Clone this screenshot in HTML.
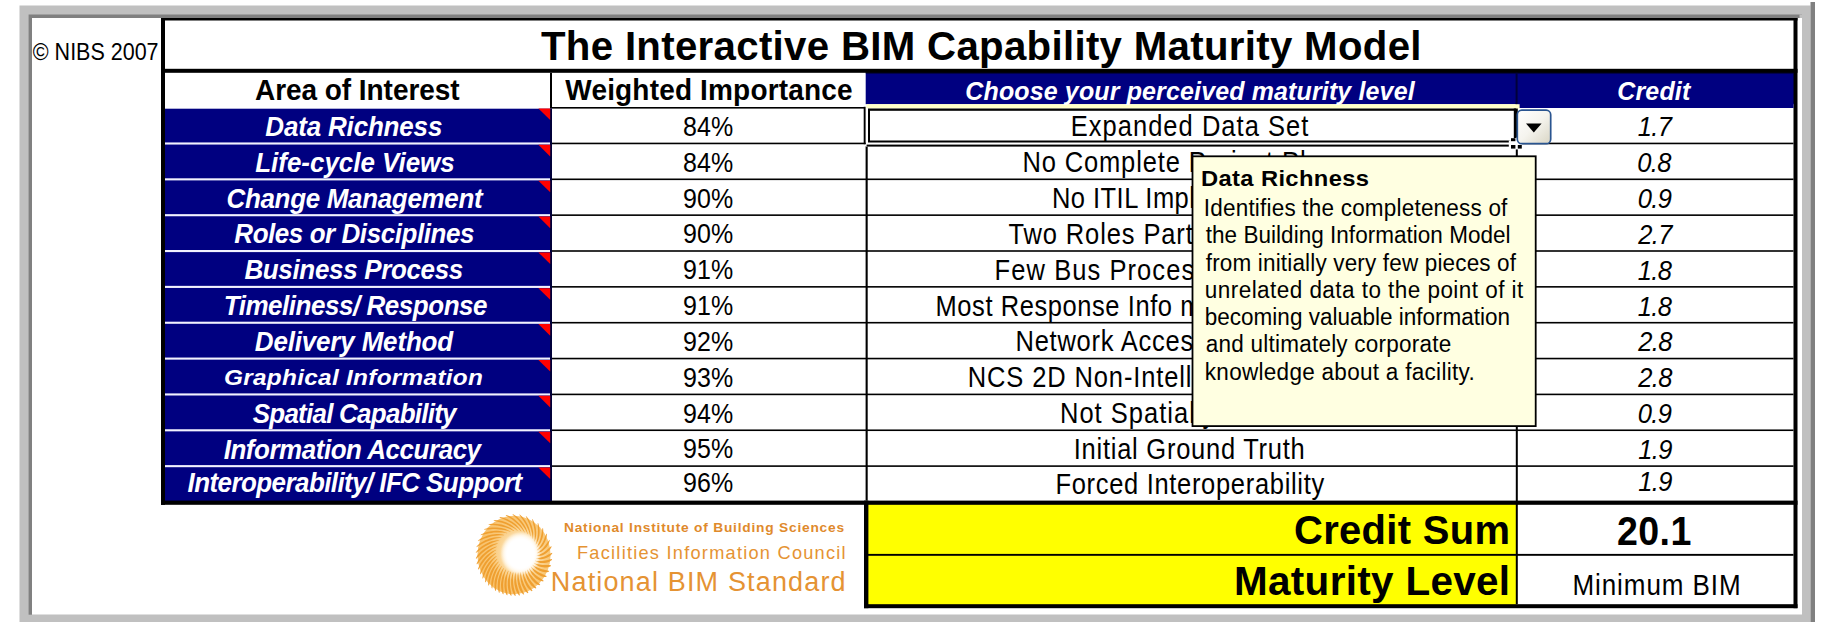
<!DOCTYPE html><html><head><meta charset="utf-8"><title>BIM CMM</title><style>
html,body{margin:0;padding:0;background:#fff;}
body{width:1842px;height:622px;position:relative;overflow:hidden;font-family:"Liberation Sans",sans-serif;}
div,span{position:absolute;}
span{white-space:nowrap;line-height:1;}
</style></head><body>
<svg style="position:absolute;left:0;top:0" width="1842" height="622" viewBox="0 0 1842 622"><rect x="19.50" y="5.50" width="1791.00" height="616.50" fill="#c0c0c0"/><rect x="1810.50" y="2.00" width="4.50" height="620.00" fill="#808080"/><rect x="28.60" y="14.50" width="1773.40" height="600.20" fill="#808080"/><rect x="32.00" y="18.00" width="1770.00" height="596.70" fill="#ffffff"/><rect x="1799.50" y="14.50" width="2.50" height="3.50" fill="#c0c0c0"/><rect x="165.00" y="72.80" width="385.00" height="35.90" fill="#fff"/><rect x="164.00" y="108.70" width="388.00" height="393.40" fill="#000080"/><rect x="865.70" y="71.30" width="928.80" height="32.90" fill="#000080"/><rect x="866.40" y="503.30" width="650.20" height="102.40" fill="#ffff00"/><rect x="161.00" y="18.00" width="1636.50" height="2.50" fill="#000"/><rect x="161.00" y="18.00" width="4.00" height="486.80" fill="#000"/><rect x="1793.50" y="18.00" width="4.00" height="590.20" fill="#000"/><rect x="161.00" y="68.80" width="1636.50" height="4.00" fill="#000"/><rect x="865.70" y="72.60" width="927.80" height="0.80" fill="#000"/><rect x="161.00" y="500.60" width="1636.50" height="4.20" fill="#000"/><rect x="864.00" y="500.60" width="4.40" height="107.60" fill="#000"/><rect x="864.00" y="604.20" width="933.50" height="4.00" fill="#000"/><rect x="550.00" y="72.80" width="2.00" height="35.60" fill="#000"/><rect x="550.00" y="108.40" width="2.00" height="392.20" fill="#00003a"/><rect x="865.60" y="146.20" width="2.10" height="354.40" fill="#000"/><rect x="1515.60" y="72.80" width="2.00" height="31.40" fill="#00003a"/><rect x="1515.80" y="107.20" width="2.00" height="497.00" fill="#000"/><rect x="1515.60" y="103.00" width="2.00" height="5.00" fill="#00003a"/><rect x="552.00" y="107.00" width="312.00" height="1.60" fill="#000"/><rect x="1517.60" y="103.00" width="275.90" height="5.00" fill="#000080"/><rect x="165.00" y="142.45" width="385.00" height="2.10" fill="#f2f2ff"/><rect x="552.00" y="142.65" width="1241.50" height="1.60" fill="#000"/><rect x="165.00" y="178.30" width="385.00" height="2.10" fill="#f2f2ff"/><rect x="552.00" y="178.50" width="1241.50" height="1.60" fill="#000"/><rect x="165.00" y="214.15" width="385.00" height="2.10" fill="#f2f2ff"/><rect x="552.00" y="214.35" width="1241.50" height="1.60" fill="#000"/><rect x="165.00" y="250.00" width="385.00" height="2.10" fill="#f2f2ff"/><rect x="552.00" y="250.20" width="1241.50" height="1.60" fill="#000"/><rect x="165.00" y="285.85" width="385.00" height="2.10" fill="#f2f2ff"/><rect x="552.00" y="286.05" width="1241.50" height="1.60" fill="#000"/><rect x="165.00" y="321.70" width="385.00" height="2.10" fill="#f2f2ff"/><rect x="552.00" y="321.90" width="1241.50" height="1.60" fill="#000"/><rect x="165.00" y="357.55" width="385.00" height="2.10" fill="#f2f2ff"/><rect x="552.00" y="357.75" width="1241.50" height="1.60" fill="#000"/><rect x="165.00" y="393.40" width="385.00" height="2.10" fill="#f2f2ff"/><rect x="552.00" y="393.60" width="1241.50" height="1.60" fill="#000"/><rect x="165.00" y="429.25" width="385.00" height="2.10" fill="#f2f2ff"/><rect x="552.00" y="429.45" width="1241.50" height="1.60" fill="#000"/><rect x="165.00" y="465.10" width="385.00" height="2.10" fill="#f2f2ff"/><rect x="552.00" y="465.30" width="1241.50" height="1.60" fill="#000"/><rect x="867.40" y="553.90" width="926.10" height="1.90" fill="#000"/><polygon points="538.4,108.40 550.2,108.40 550.2,120.00" fill="#ff0000"/><polygon points="538.4,144.85 550.2,144.85 550.2,156.45" fill="#ff0000"/><polygon points="538.4,180.70 550.2,180.70 550.2,192.30" fill="#ff0000"/><polygon points="538.4,216.55 550.2,216.55 550.2,228.15" fill="#ff0000"/><polygon points="538.4,252.40 550.2,252.40 550.2,264.00" fill="#ff0000"/><polygon points="538.4,288.25 550.2,288.25 550.2,299.85" fill="#ff0000"/><polygon points="538.4,324.10 550.2,324.10 550.2,335.70" fill="#ff0000"/><polygon points="538.4,359.95 550.2,359.95 550.2,371.55" fill="#ff0000"/><polygon points="538.4,395.80 550.2,395.80 550.2,407.40" fill="#ff0000"/><polygon points="538.4,431.65 550.2,431.65 550.2,443.25" fill="#ff0000"/><polygon points="538.4,467.50 550.2,467.50 550.2,479.10" fill="#ff0000"/><rect x="866.40" y="104.20" width="653.20" height="4.30" fill="#ffffc8"/><rect x="865.70" y="108.50" width="650.20" height="38.10" fill="#fff"/><rect x="868.00" y="108.50" width="648.00" height="34.00" fill="#000"/><rect x="870.00" y="110.80" width="644.00" height="29.70" fill="#fff"/><rect x="863.70" y="106.80" width="1.90" height="37.40" fill="#000"/><rect x="866.60" y="144.60" width="642.40" height="2.00" fill="#000"/><rect x="1508.80" y="140.40" width="2.00" height="6.40" fill="#fff"/><rect x="1510.20" y="137.60" width="12.00" height="11.80" fill="#fff"/><rect x="1511.00" y="138.20" width="4.40" height="3.00" fill="#000"/><rect x="1511.00" y="145.00" width="4.40" height="3.60" fill="#000"/><rect x="1517.80" y="145.00" width="4.00" height="3.60" fill="#000"/><rect x="1513.80" y="108.50" width="2.20" height="29.50" fill="#000"/></svg>
<svg style="position:absolute;left:1510px;top:104px;z-index:2" width="48" height="46" viewBox="1510 104 48 46"><defs><linearGradient id="bg" x1="0" y1="0" x2="1" y2="1"><stop offset="0" stop-color="#ffffff"/><stop offset="0.5" stop-color="#f5f4ee"/><stop offset="1" stop-color="#d9d5c4"/></linearGradient></defs><rect x="1517.3" y="110.2" width="33.4" height="33.5" rx="4.5" ry="4.5" fill="url(#bg)" stroke="#2a5590" stroke-width="1.7"/><polygon points="1526.0,123.6 1541.6,123.6 1533.8,132.4" fill="#000"/></svg>
<svg style="position:absolute;left:470px;top:508px;" width="90" height="94" viewBox="470 508 90 94"><defs><radialGradient id="hg" gradientUnits="userSpaceOnUse" cx="520.6" cy="553.6" r="40" gradientTransform="translate(520.6 553.6) scale(1 1.08) translate(-520.6 -553.6)"><stop offset="0" stop-color="#fff"/><stop offset="0.33" stop-color="#fff"/><stop offset="0.42" stop-color="#fff0d4"/><stop offset="0.52" stop-color="#fbd79a"/><stop offset="0.68" stop-color="#f9ca7c"/><stop offset="1" stop-color="#f8c26c"/></radialGradient><radialGradient id="hw" gradientUnits="userSpaceOnUse" cx="520.6" cy="553.6" r="20" gradientTransform="translate(520.6 553.6) scale(1 1.08) translate(-520.6 -553.6)"><stop offset="0" stop-color="#fff"/><stop offset="0.62" stop-color="#fff"/><stop offset="0.82" stop-color="#fff" stop-opacity="0.5"/><stop offset="1" stop-color="#fff" stop-opacity="0"/></radialGradient></defs><ellipse cx="514.0" cy="555.0" rx="36.6" ry="39.199999999999996" fill="url(#hg)"/><path d="M537.0 553.0 L538.2 552.3 L539.4 551.4 L540.5 550.5 L541.7 549.4 L542.7 548.4 L543.8 547.3 L544.8 546.1 L545.8 544.8 L546.7 543.5 L547.6 542.2 L548.5 540.9 L549.4 539.7 L549.7 540.6 L549.1 542.6 L548.3 544.3 L547.4 545.9 L546.4 547.2 L545.3 548.5 L544.2 549.6 L543.1 550.5 L541.9 551.4 L540.7 552.0 L539.5 552.5 L538.2 553.0 L537.0 553.3Z" fill="#ee9d2c" fill-opacity="0.95"/><path d="M536.7 555.7 L538.0 555.3 L539.3 554.8 L540.6 554.1 L541.9 553.4 L543.2 552.7 L544.4 551.9 L545.6 551.0 L546.8 550.1 L547.9 549.0 L549.0 548.0 L550.2 547.0 L551.3 546.1 L551.5 547.1 L550.5 548.8 L549.4 550.3 L548.2 551.5 L547.0 552.5 L545.8 553.4 L544.5 554.2 L543.2 554.9 L541.9 555.4 L540.6 555.7 L539.3 555.9 L537.9 556.0 L536.6 556.0Z" fill="#ee9d2c" fill-opacity="0.95"/><path d="M536.0 558.2 L537.4 558.2 L538.8 558.0 L540.2 557.7 L541.6 557.3 L543.0 556.9 L544.3 556.4 L545.7 555.9 L547.0 555.3 L548.3 554.6 L549.6 553.9 L550.9 553.2 L552.1 552.7 L552.2 553.7 L550.9 555.1 L549.6 556.2 L548.2 557.0 L546.8 557.8 L545.5 558.3 L544.1 558.7 L542.7 559.0 L541.3 559.2 L539.9 559.2 L538.6 559.0 L537.3 558.8 L535.9 558.6Z" fill="#ee9d2c" fill-opacity="0.95"/><path d="M535.1 560.6 L536.5 560.9 L537.9 561.0 L539.4 561.1 L540.8 561.0 L542.2 560.9 L543.6 560.8 L545.1 560.6 L546.5 560.3 L547.9 560.0 L549.3 559.6 L550.6 559.3 L552.0 559.1 L551.9 560.1 L550.4 561.1 L548.9 561.9 L547.4 562.4 L546.0 562.8 L544.5 563.0 L543.1 563.0 L541.6 563.0 L540.2 562.9 L538.9 562.5 L537.6 562.0 L536.3 561.5 L535.0 560.9Z" fill="#ee9d2c" fill-opacity="0.95"/><path d="M534.0 562.8 L535.3 563.4 L536.7 563.9 L538.1 564.2 L539.6 564.5 L541.0 564.7 L542.4 564.9 L543.8 565.1 L545.3 565.1 L546.7 565.1 L548.2 565.1 L549.6 565.1 L551.0 565.2 L550.7 566.2 L549.1 566.9 L547.5 567.3 L546.0 567.4 L544.5 567.4 L543.0 567.3 L541.5 567.1 L540.1 566.7 L538.8 566.2 L537.5 565.5 L536.2 564.8 L535.0 564.0 L533.8 563.1Z" fill="#ee9d2c" fill-opacity="0.95"/><path d="M532.6 564.8 L533.9 565.7 L535.2 566.5 L536.5 567.1 L537.9 567.7 L539.3 568.2 L540.7 568.8 L542.1 569.2 L543.5 569.6 L545.0 569.9 L546.4 570.2 L547.8 570.5 L549.2 570.9 L548.8 571.8 L547.1 572.2 L545.5 572.2 L543.9 572.1 L542.4 571.7 L541.0 571.3 L539.6 570.7 L538.2 570.1 L536.9 569.3 L535.7 568.3 L534.6 567.3 L533.5 566.2 L532.4 565.1Z" fill="#ee9d2c" fill-opacity="0.95"/><path d="M531.0 566.6 L532.2 567.7 L533.4 568.8 L534.6 569.7 L535.9 570.6 L537.2 571.4 L538.5 572.2 L539.9 572.9 L541.3 573.6 L542.6 574.2 L544.0 574.8 L545.4 575.4 L546.7 576.1 L546.2 577.0 L544.5 576.9 L542.8 576.7 L541.3 576.2 L539.9 575.6 L538.5 574.8 L537.2 574.0 L535.9 573.0 L534.7 572.0 L533.7 570.8 L532.7 569.5 L531.7 568.2 L530.8 566.8Z" fill="#ee9d2c" fill-opacity="0.95"/><path d="M529.3 568.2 L530.3 569.6 L531.3 570.8 L532.4 572.0 L533.7 573.1 L534.8 574.2 L536.0 575.3 L537.3 576.3 L538.6 577.2 L539.9 578.1 L541.2 578.9 L542.4 579.8 L543.7 580.7 L543.1 581.5 L541.3 581.1 L539.7 580.6 L538.3 579.8 L536.9 578.9 L535.6 577.9 L534.4 576.8 L533.3 575.6 L532.2 574.4 L531.4 572.9 L530.5 571.5 L529.7 570.0 L529.0 568.4Z" fill="#ee9d2c" fill-opacity="0.95"/><path d="M527.4 569.6 L528.2 571.1 L529.1 572.6 L530.0 574.0 L531.1 575.3 L532.2 576.6 L533.2 577.9 L534.4 579.1 L535.5 580.3 L536.7 581.4 L537.9 582.4 L539.1 583.5 L540.2 584.7 L539.5 585.3 L537.8 584.7 L536.3 583.9 L534.9 582.9 L533.7 581.8 L532.5 580.5 L531.4 579.2 L530.5 577.8 L529.5 576.3 L528.8 574.7 L528.2 573.1 L527.6 571.4 L527.1 569.7Z" fill="#ee9d2c" fill-opacity="0.95"/><path d="M525.3 570.7 L525.9 572.4 L526.6 574.1 L527.5 575.6 L528.4 577.1 L529.3 578.7 L530.2 580.1 L531.2 581.5 L532.2 582.8 L533.3 584.1 L534.4 585.4 L535.5 586.7 L536.4 588.0 L535.7 588.6 L534.1 587.7 L532.6 586.6 L531.3 585.4 L530.2 584.1 L529.2 582.6 L528.3 581.1 L527.4 579.6 L526.7 577.9 L526.2 576.2 L525.7 574.4 L525.3 572.6 L525.0 570.8Z" fill="#ee9d2c" fill-opacity="0.95"/><path d="M523.1 571.6 L523.5 573.4 L524.0 575.2 L524.7 576.9 L525.5 578.6 L526.2 580.3 L527.0 581.9 L527.8 583.4 L528.7 584.9 L529.7 586.4 L530.7 587.8 L531.6 589.2 L532.5 590.7 L531.7 591.2 L530.1 590.1 L528.7 588.8 L527.6 587.4 L526.6 585.9 L525.7 584.3 L524.9 582.6 L524.2 580.9 L523.7 579.1 L523.3 577.3 L523.1 575.5 L522.9 573.6 L522.7 571.7Z" fill="#ee9d2c" fill-opacity="0.95"/><path d="M520.7 572.2 L521.0 574.2 L521.3 576.0 L521.8 577.9 L522.4 579.7 L523.0 581.4 L523.6 583.2 L524.3 584.9 L525.1 586.5 L525.9 588.1 L526.8 589.7 L527.6 591.2 L528.4 592.8 L527.5 593.2 L526.0 591.8 L524.8 590.4 L523.7 588.8 L522.9 587.1 L522.1 585.4 L521.5 583.6 L521.0 581.8 L520.6 580.0 L520.4 578.1 L520.3 576.1 L520.3 574.2 L520.4 572.3Z" fill="#ee9d2c" fill-opacity="0.95"/><path d="M518.3 572.6 L518.4 574.6 L518.6 576.5 L518.9 578.5 L519.3 580.3 L519.7 582.2 L520.2 584.0 L520.8 585.8 L521.4 587.6 L522.1 589.3 L522.8 591.0 L523.5 592.7 L524.2 594.3 L523.3 594.6 L521.9 593.1 L520.8 591.4 L519.8 589.7 L519.1 587.9 L518.5 586.1 L518.0 584.2 L517.7 582.3 L517.4 580.4 L517.4 578.4 L517.5 576.5 L517.7 574.5 L518.0 572.6Z" fill="#ee9d2c" fill-opacity="0.95"/><path d="M515.9 572.6 L515.7 574.7 L515.8 576.7 L515.9 578.7 L516.2 580.6 L516.4 582.6 L516.8 584.5 L517.2 586.3 L517.7 588.2 L518.3 590.0 L518.9 591.8 L519.4 593.5 L520.0 595.3 L519.1 595.4 L517.8 593.8 L516.7 592.0 L515.9 590.1 L515.3 588.2 L514.9 586.3 L514.5 584.4 L514.3 582.4 L514.3 580.4 L514.5 578.4 L514.7 576.5 L515.1 574.5 L515.5 572.6Z" fill="#ee9d2c" fill-opacity="0.95"/><path d="M513.4 572.4 L513.1 574.4 L512.9 576.5 L512.9 578.5 L513.0 580.5 L513.1 582.5 L513.3 584.5 L513.6 586.4 L514.0 588.3 L514.4 590.2 L514.9 592.1 L515.4 593.9 L515.8 595.8 L514.8 595.8 L513.7 593.9 L512.8 592.0 L512.1 590.1 L511.6 588.1 L511.3 586.1 L511.1 584.1 L511.1 582.1 L511.1 580.0 L511.5 578.1 L511.9 576.1 L512.4 574.2 L513.0 572.3Z" fill="#ee9d2c" fill-opacity="0.95"/><path d="M510.9 571.8 L510.4 573.9 L510.1 575.9 L510.0 578.0 L509.9 580.0 L509.9 582.1 L509.9 584.1 L510.1 586.1 L510.3 588.1 L510.6 590.0 L511.0 592.0 L511.3 593.9 L511.6 595.7 L510.7 595.6 L509.6 593.7 L508.9 591.6 L508.3 589.6 L508.0 587.5 L507.8 585.5 L507.8 583.4 L507.8 581.3 L508.1 579.3 L508.6 577.4 L509.1 575.4 L509.8 573.5 L510.6 571.6Z" fill="#ee9d2c" fill-opacity="0.95"/><path d="M508.5 571.0 L507.9 573.0 L507.4 575.0 L507.1 577.1 L506.9 579.2 L506.7 581.2 L506.6 583.3 L506.6 585.3 L506.7 587.3 L506.9 589.4 L507.1 591.3 L507.4 593.3 L507.5 595.2 L506.6 595.0 L505.7 592.9 L505.0 590.8 L504.6 588.6 L504.4 586.5 L504.4 584.4 L504.5 582.3 L504.7 580.2 L505.1 578.2 L505.7 576.3 L506.5 574.4 L507.3 572.5 L508.2 570.7Z" fill="#ee9d2c" fill-opacity="0.95"/><path d="M506.1 569.8 L505.4 571.7 L504.8 573.8 L504.3 575.9 L504.0 578.0 L503.6 580.0 L503.4 582.1 L503.2 584.1 L503.2 586.2 L503.3 588.3 L503.4 590.3 L503.5 592.3 L503.6 594.2 L502.7 594.0 L501.9 591.7 L501.4 589.5 L501.1 587.3 L501.0 585.1 L501.1 583.0 L501.4 580.9 L501.8 578.8 L502.3 576.7 L503.0 574.9 L503.9 573.0 L504.8 571.2 L505.8 569.5Z" fill="#ee9d2c" fill-opacity="0.95"/><path d="M503.9 568.3 L503.0 570.2 L502.3 572.2 L501.7 574.3 L501.2 576.4 L500.7 578.4 L500.3 580.5 L500.0 582.6 L499.9 584.7 L499.8 586.7 L499.7 588.8 L499.7 590.8 L499.7 592.8 L498.8 592.4 L498.2 590.1 L497.8 587.8 L497.7 585.5 L497.8 583.3 L498.0 581.1 L498.4 579.0 L499.0 576.9 L499.6 574.9 L500.5 573.1 L501.5 571.3 L502.5 569.6 L503.7 567.9Z" fill="#ee9d2c" fill-opacity="0.95"/><path d="M501.9 566.5 L500.9 568.3 L500.0 570.3 L499.2 572.3 L498.6 574.4 L497.9 576.4 L497.4 578.5 L497.0 580.6 L496.7 582.7 L496.4 584.8 L496.3 586.9 L496.1 589.0 L495.9 590.9 L495.1 590.5 L494.6 588.0 L494.5 585.6 L494.5 583.3 L494.7 581.1 L495.1 578.9 L495.7 576.8 L496.4 574.7 L497.2 572.8 L498.2 571.0 L499.3 569.3 L500.4 567.7 L501.7 566.1Z" fill="#ee9d2c" fill-opacity="0.95"/><path d="M500.1 564.3 L498.9 566.1 L497.9 568.0 L497.0 570.0 L496.2 572.1 L495.4 574.1 L494.7 576.1 L494.1 578.2 L493.7 580.3 L493.3 582.4 L492.9 584.5 L492.6 586.6 L492.3 588.6 L491.6 588.0 L491.3 585.5 L491.3 583.0 L491.5 580.7 L491.9 578.5 L492.5 576.3 L493.2 574.2 L494.0 572.2 L494.9 570.3 L496.1 568.6 L497.3 567.0 L498.6 565.4 L499.9 563.9Z" fill="#ee9d2c" fill-opacity="0.95"/><path d="M498.6 562.0 L497.3 563.7 L496.1 565.5 L495.0 567.4 L494.0 569.5 L493.1 571.4 L492.3 573.4 L491.5 575.4 L490.9 577.5 L490.3 579.6 L489.8 581.7 L489.4 583.8 L488.9 585.8 L488.2 585.1 L488.2 582.5 L488.4 580.0 L488.8 577.7 L489.4 575.5 L490.1 573.3 L490.9 571.3 L491.9 569.3 L493.0 567.5 L494.3 565.8 L495.6 564.3 L497.0 562.9 L498.4 561.5Z" fill="#ee9d2c" fill-opacity="0.95"/><path d="M497.3 559.3 L495.9 560.9 L494.6 562.7 L493.3 564.5 L492.2 566.5 L491.1 568.3 L490.1 570.3 L489.2 572.3 L488.4 574.3 L487.7 576.4 L487.0 578.5 L486.4 580.5 L485.8 582.5 L485.1 581.7 L485.3 579.1 L485.7 576.6 L486.3 574.3 L487.1 572.1 L488.0 570.0 L489.0 568.0 L490.2 566.1 L491.4 564.3 L492.8 562.8 L494.2 561.4 L495.7 560.1 L497.2 558.8Z" fill="#ee9d2c" fill-opacity="0.95"/><path d="M496.5 556.4 L494.9 557.9 L493.4 559.5 L492.0 561.3 L490.7 563.2 L489.5 564.9 L488.3 566.8 L487.2 568.7 L486.3 570.7 L485.3 572.7 L484.5 574.8 L483.7 576.8 L482.9 578.7 L482.4 577.9 L482.8 575.2 L483.4 572.7 L484.2 570.4 L485.2 568.3 L486.3 566.3 L487.5 564.4 L488.8 562.6 L490.2 560.9 L491.7 559.5 L493.2 558.2 L494.8 557.0 L496.4 556.0Z" fill="#ee9d2c" fill-opacity="0.95"/><path d="M496.0 553.4 L494.3 554.7 L492.7 556.2 L491.2 557.8 L489.7 559.6 L488.3 561.2 L486.9 563.0 L485.7 564.8 L484.5 566.7 L483.4 568.7 L482.4 570.6 L481.4 572.6 L480.4 574.4 L480.0 573.5 L480.6 570.9 L481.5 568.5 L482.6 566.2 L483.8 564.2 L485.0 562.3 L486.4 560.5 L487.9 558.8 L489.4 557.2 L491.0 556.0 L492.7 554.9 L494.3 553.8 L496.0 552.9Z" fill="#ee9d2c" fill-opacity="0.95"/><path d="M496.0 550.2 L494.2 551.3 L492.5 552.7 L490.8 554.1 L489.1 555.7 L487.6 557.2 L486.0 558.9 L484.6 560.6 L483.2 562.4 L481.9 564.2 L480.7 566.1 L479.5 567.9 L478.4 569.7 L478.0 568.8 L479.0 566.2 L480.1 563.8 L481.4 561.7 L482.8 559.7 L484.3 557.9 L485.8 556.3 L487.4 554.8 L489.1 553.4 L490.8 552.3 L492.6 551.3 L494.3 550.5 L496.1 549.7Z" fill="#ee9d2c" fill-opacity="0.95"/><path d="M496.5 546.9 L494.6 547.9 L492.7 549.0 L490.9 550.3 L489.1 551.7 L487.4 553.1 L485.7 554.5 L484.1 556.1 L482.5 557.7 L481.0 559.4 L479.6 561.1 L478.2 562.9 L476.9 564.5 L476.6 563.5 L477.9 561.0 L479.3 558.8 L480.8 556.8 L482.4 555.0 L484.1 553.4 L485.8 551.9 L487.6 550.6 L489.4 549.4 L491.2 548.5 L493.0 547.7 L494.8 547.0 L496.7 546.5Z" fill="#ee9d2c" fill-opacity="0.95"/><path d="M497.6 543.7 L495.6 544.4 L493.6 545.3 L491.6 546.4 L489.6 547.6 L487.8 548.7 L485.9 550.0 L484.1 551.4 L482.4 552.8 L480.7 554.3 L479.1 555.9 L477.5 557.5 L476.0 559.0 L475.9 558.0 L477.4 555.6 L479.1 553.6 L480.8 551.8 L482.6 550.2 L484.5 548.7 L486.4 547.4 L488.3 546.3 L490.2 545.3 L492.1 544.6 L494.0 544.1 L495.9 543.6 L497.8 543.3Z" fill="#ee9d2c" fill-opacity="0.95"/><path d="M499.2 540.6 L497.1 541.1 L495.0 541.7 L492.9 542.5 L490.8 543.5 L488.8 544.4 L486.8 545.4 L484.9 546.6 L483.0 547.8 L481.1 549.1 L479.3 550.5 L477.6 551.8 L475.8 553.1 L475.9 552.2 L477.7 550.0 L479.6 548.2 L481.6 546.6 L483.6 545.2 L485.6 544.0 L487.6 543.0 L489.6 542.1 L491.7 541.3 L493.6 540.9 L495.6 540.6 L497.5 540.3 L499.4 540.2Z" fill="#ee9d2c" fill-opacity="0.95"/><path d="M501.3 537.8 L499.1 538.0 L497.0 538.3 L494.8 538.8 L492.6 539.5 L490.5 540.2 L488.5 540.9 L486.4 541.8 L484.3 542.8 L482.3 543.8 L480.3 545.0 L478.4 546.1 L476.5 547.2 L476.7 546.2 L478.8 544.3 L480.9 542.7 L483.1 541.4 L485.2 540.3 L487.4 539.4 L489.5 538.6 L491.7 538.0 L493.8 537.5 L495.8 537.3 L497.7 537.3 L499.7 537.3 L501.6 537.4Z" fill="#ee9d2c" fill-opacity="0.95"/><path d="M503.9 535.3 L501.7 535.2 L499.6 535.2 L497.4 535.4 L495.1 535.8 L492.9 536.1 L490.8 536.6 L488.6 537.2 L486.4 537.9 L484.3 538.6 L482.1 539.5 L480.1 540.3 L478.1 541.2 L478.4 540.2 L480.8 538.6 L483.1 537.4 L485.4 536.4 L487.7 535.6 L489.9 535.0 L492.2 534.5 L494.4 534.2 L496.5 534.0 L498.5 534.1 L500.5 534.3 L502.4 534.6 L504.2 535.0Z" fill="#ee9d2c" fill-opacity="0.95"/><path d="M506.9 533.2 L504.8 532.8 L502.7 532.6 L500.4 532.5 L498.2 532.5 L496.0 532.5 L493.8 532.6 L491.5 532.9 L489.3 533.3 L487.1 533.7 L484.8 534.2 L482.7 534.8 L480.5 535.3 L481.0 534.5 L483.6 533.2 L486.1 532.3 L488.5 531.7 L490.9 531.2 L493.2 530.9 L495.5 530.8 L497.7 530.8 L499.8 531.0 L501.8 531.3 L503.7 531.8 L505.5 532.4 L507.3 533.0Z" fill="#ee9d2c" fill-opacity="0.95"/><path d="M510.2 531.8 L508.2 531.1 L506.2 530.5 L504.0 530.0 L501.8 529.7 L499.6 529.4 L497.4 529.2 L495.2 529.1 L492.9 529.1 L490.6 529.2 L488.4 529.4 L486.1 529.6 L484.0 529.8 L484.5 529.0 L487.3 528.2 L489.9 527.7 L492.4 527.4 L494.8 527.4 L497.1 527.4 L499.4 527.7 L501.5 528.0 L503.6 528.5 L505.5 529.1 L507.3 529.9 L509.0 530.7 L510.6 531.6Z" fill="#ee9d2c" fill-opacity="0.95"/><path d="M513.8 530.9 L511.9 529.9 L510.0 529.0 L508.0 528.2 L505.8 527.6 L503.8 526.9 L501.6 526.4 L499.5 525.9 L497.2 525.6 L495.0 525.3 L492.7 525.1 L490.4 525.0 L488.3 524.8 L489.0 524.2 L491.8 523.8 L494.4 523.8 L496.9 523.9 L499.3 524.2 L501.6 524.6 L503.8 525.2 L505.8 525.9 L507.8 526.7 L509.5 527.6 L511.2 528.6 L512.7 529.7 L514.2 530.8Z" fill="#ee9d2c" fill-opacity="0.95"/><path d="M517.4 530.7 L515.8 529.5 L514.1 528.3 L512.2 527.2 L510.2 526.2 L508.3 525.2 L506.3 524.3 L504.2 523.5 L502.1 522.8 L499.9 522.2 L497.7 521.7 L495.5 521.1 L493.4 520.6 L494.2 520.1 L497.0 520.2 L499.6 520.6 L502.1 521.1 L504.3 521.8 L506.5 522.6 L508.5 523.6 L510.5 524.6 L512.3 525.7 L513.8 526.9 L515.2 528.1 L516.6 529.4 L517.8 530.7Z" fill="#ee9d2c" fill-opacity="0.95"/><path d="M521.0 531.2 L519.6 529.7 L518.1 528.3 L516.5 526.9 L514.7 525.6 L513.0 524.3 L511.2 523.1 L509.3 522.0 L507.4 521.0 L505.3 520.0 L503.3 519.1 L501.2 518.2 L499.3 517.4 L500.1 517.0 L502.9 517.6 L505.3 518.4 L507.6 519.3 L509.7 520.4 L511.7 521.6 L513.6 522.8 L515.3 524.1 L516.8 525.5 L518.1 526.9 L519.3 528.3 L520.4 529.8 L521.4 531.3Z" fill="#ee9d2c" fill-opacity="0.95"/><path d="M524.4 532.3 L523.3 530.7 L522.1 529.0 L520.8 527.4 L519.3 525.8 L517.8 524.3 L516.3 522.9 L514.6 521.5 L512.9 520.1 L511.1 518.8 L509.2 517.6 L507.4 516.4 L505.6 515.2 L506.5 515.0 L509.1 516.1 L511.4 517.3 L513.5 518.6 L515.3 520.0 L517.0 521.4 L518.6 523.0 L520.1 524.5 L521.3 526.1 L522.4 527.7 L523.3 529.3 L524.1 530.9 L524.8 532.4Z" fill="#ee9d2c" fill-opacity="0.95"/><path d="M527.5 534.0 L526.8 532.2 L525.9 530.4 L524.9 528.7 L523.7 526.9 L522.5 525.2 L521.3 523.5 L520.0 521.9 L518.5 520.3 L517.0 518.7 L515.4 517.2 L513.8 515.7 L512.3 514.2 L513.2 514.2 L515.5 515.7 L517.6 517.3 L519.3 518.9 L520.9 520.6 L522.3 522.3 L523.6 524.0 L524.7 525.8 L525.7 527.5 L526.4 529.2 L527.0 530.9 L527.4 532.5 L527.9 534.2Z" fill="#ee9d2c" fill-opacity="0.95"/><path d="M530.2 536.1 L529.8 534.3 L529.3 532.5 L528.6 530.6 L527.8 528.7 L527.0 526.9 L526.1 525.1 L525.1 523.3 L524.0 521.5 L522.8 519.7 L521.6 517.9 L520.3 516.2 L519.1 514.6 L520.0 514.7 L522.0 516.6 L523.6 518.4 L525.1 520.3 L526.3 522.2 L527.3 524.1 L528.2 526.0 L529.0 527.8 L529.6 529.7 L530.0 531.4 L530.3 533.1 L530.4 534.7 L530.5 536.4Z" fill="#ee9d2c" fill-opacity="0.95"/><path d="M532.5 538.6 L532.5 536.8 L532.3 535.0 L532.0 533.1 L531.5 531.2 L531.1 529.3 L530.5 527.4 L529.9 525.5 L529.2 523.6 L528.3 521.7 L527.5 519.8 L526.6 518.0 L525.7 516.2 L526.6 516.5 L528.2 518.6 L529.4 520.7 L530.5 522.8 L531.3 524.8 L532.0 526.7 L532.5 528.7 L532.9 530.6 L533.2 532.4 L533.2 534.1 L533.1 535.8 L533.0 537.4 L532.8 538.9Z" fill="#ee9d2c" fill-opacity="0.95"/><path d="M534.3 541.4 L534.6 539.7 L534.8 537.9 L534.8 536.1 L534.7 534.2 L534.7 532.4 L534.5 530.5 L534.2 528.6 L533.9 526.7 L533.4 524.7 L532.9 522.8 L532.5 520.9 L532.0 519.0 L532.8 519.5 L533.9 521.8 L534.7 524.0 L535.3 526.1 L535.8 528.2 L536.0 530.2 L536.2 532.1 L536.2 533.9 L536.1 535.7 L535.8 537.3 L535.5 538.8 L535.0 540.3 L534.5 541.7Z" fill="#ee9d2c" fill-opacity="0.95"/><path d="M535.6 544.2 L536.2 542.7 L536.7 541.1 L537.1 539.4 L537.4 537.7 L537.6 535.9 L537.8 534.2 L537.9 532.3 L538.0 530.4 L537.9 528.5 L537.8 526.6 L537.7 524.8 L537.7 523.0 L538.4 523.6 L539.0 526.0 L539.4 528.2 L539.6 530.3 L539.6 532.3 L539.5 534.2 L539.3 536.0 L538.9 537.7 L538.5 539.4 L537.9 540.8 L537.3 542.1 L536.6 543.4 L535.8 544.6Z" fill="#ee9d2c" fill-opacity="0.95"/><path d="M536.5 547.2 L537.4 545.9 L538.1 544.5 L538.8 543.0 L539.4 541.4 L540.0 539.9 L540.5 538.3 L541.0 536.6 L541.4 534.8 L541.7 533.1 L542.0 531.3 L542.2 529.5 L542.5 527.9 L543.1 528.6 L543.3 531.0 L543.2 533.1 L543.0 535.1 L542.7 536.9 L542.2 538.7 L541.6 540.3 L541.0 541.9 L540.3 543.3 L539.4 544.5 L538.5 545.6 L537.6 546.6 L536.6 547.6Z" fill="#ee9d2c" fill-opacity="0.95"/><path d="M536.9 550.1 L538.0 549.1 L539.0 548.0 L540.0 546.7 L540.8 545.4 L541.7 544.1 L542.5 542.7 L543.3 541.2 L544.0 539.7 L544.6 538.1 L545.2 536.5 L545.8 535.0 L546.5 533.5 L546.9 534.3 L546.7 536.6 L546.2 538.6 L545.6 540.3 L544.9 542.0 L544.1 543.5 L543.3 544.9 L542.4 546.2 L541.4 547.3 L540.3 548.2 L539.3 549.1 L538.1 549.8 L537.0 550.5Z" fill="#ee9d2c" fill-opacity="0.95"/><ellipse cx="520.6" cy="553.6" rx="20" ry="21.6" fill="url(#hw)"/></svg>
<svg style="position:absolute;left:1185px;top:150px;z-index:5" width="360" height="285" viewBox="1185 150 360 285"><rect x="1192.5" y="156.3" width="343.2" height="269.8" fill="#ffffe1" stroke="#000" stroke-width="1.8"/></svg>
<span id="t0" style="left:32.80px;top:43.11px;font-size:21.5px;font-weight:400;font-style:normal;color:#000;z-index:1;letter-spacing:-0.004px;transform:scale(1.0000,1.0800);transform-origin:0 17.00px;">© NIBS 2007</span>
<span id="t1" style="left:541.40px;top:27.00px;font-size:39px;font-weight:700;font-style:normal;color:#000;z-index:1;letter-spacing:0.300px;transform:scale(1.0310,1.0300);transform-origin:0 33.00px;">The Interactive BIM Capability Maturity Model</span>
<span id="t2" style="left:255.00px;top:76.80px;font-size:28px;font-weight:700;font-style:normal;color:#000;z-index:1;letter-spacing:-0.051px;transform:scale(1.0000,1.0600);transform-origin:0 23.00px;">Area of Interest</span>
<span id="t3" style="left:565.30px;top:76.80px;font-size:28px;font-weight:700;font-style:normal;color:#000;z-index:1;letter-spacing:0.172px;transform:scale(1.0000,1.0600);transform-origin:0 23.00px;">Weighted Importance</span>
<span id="t4" style="left:965.30px;top:79.31px;font-size:25px;font-weight:700;font-style:italic;color:#fff;z-index:1;letter-spacing:0.135px;transform:scale(1.0000,1.0300);transform-origin:0 21.00px;">Choose your perceived maturity level</span>
<span id="t5" style="left:1617.30px;top:79.31px;font-size:25px;font-weight:700;font-style:italic;color:#fff;z-index:1;letter-spacing:0.139px;transform:scale(1.0000,1.0300);transform-origin:0 21.00px;">Credit</span>
<span id="t6" style="left:265.30px;top:113.92px;font-size:26px;font-weight:700;font-style:italic;color:#fff;z-index:1;letter-spacing:-0.177px;transform:scale(1.0000,1.0500);transform-origin:0 22.00px;">Data Richness</span>
<span id="t7" style="left:255.20px;top:149.76px;font-size:26px;font-weight:700;font-style:italic;color:#fff;z-index:1;letter-spacing:-0.024px;transform:scale(1.0000,1.0500);transform-origin:0 22.00px;">Life-cycle Views</span>
<span id="t8" style="left:226.50px;top:185.61px;font-size:26px;font-weight:700;font-style:italic;color:#fff;z-index:1;letter-spacing:-0.333px;transform:scale(1.0000,1.0500);transform-origin:0 22.00px;">Change Management</span>
<span id="t9" style="left:234.30px;top:221.45px;font-size:26px;font-weight:700;font-style:italic;color:#fff;z-index:1;letter-spacing:-0.445px;transform:scale(1.0000,1.0500);transform-origin:0 22.00px;">Roles or Disciplines</span>
<span id="t10" style="left:244.40px;top:257.31px;font-size:26px;font-weight:700;font-style:italic;color:#fff;z-index:1;letter-spacing:-0.343px;transform:scale(1.0000,1.0500);transform-origin:0 22.00px;">Business Process</span>
<span id="t11" style="left:223.70px;top:293.17px;font-size:26px;font-weight:700;font-style:italic;color:#fff;z-index:1;letter-spacing:-0.462px;transform:scale(1.0000,1.0500);transform-origin:0 22.00px;">Timeliness/ Response</span>
<span id="t12" style="left:254.80px;top:329.01px;font-size:26px;font-weight:700;font-style:italic;color:#fff;z-index:1;letter-spacing:-0.175px;transform:scale(1.0000,1.0500);transform-origin:0 22.00px;">Delivery Method</span>
<span id="t13" style="left:224.21px;top:367.65px;font-size:20.5px;font-weight:700;font-style:italic;color:#fff;z-index:1;letter-spacing:0.250px;transform:scale(1.1877,1.0500);transform-origin:0 17.00px;">Graphical Information</span>
<span id="t14" style="left:252.70px;top:400.70px;font-size:26px;font-weight:700;font-style:italic;color:#fff;z-index:1;letter-spacing:-0.757px;transform:scale(1.0000,1.0500);transform-origin:0 22.00px;">Spatial Capability</span>
<span id="t15" style="left:223.70px;top:436.56px;font-size:26px;font-weight:700;font-style:italic;color:#fff;z-index:1;letter-spacing:-0.470px;transform:scale(1.0000,1.0500);transform-origin:0 22.00px;">Information Accuracy</span>
<span id="t16" style="left:187.60px;top:470.20px;font-size:26px;font-weight:700;font-style:italic;color:#fff;z-index:1;letter-spacing:-0.584px;transform:scale(1.0000,1.0500);transform-origin:0 22.00px;">Interoperability/ IFC Support</span>
<span id="t17" style="left:683.00px;top:114.81px;font-size:25px;font-weight:400;font-style:normal;color:#000;z-index:1;letter-spacing:0.096px;transform:scale(1.0000,1.1000);transform-origin:0 21.00px;">84%</span>
<span id="t18" style="left:683.00px;top:150.65px;font-size:25px;font-weight:400;font-style:normal;color:#000;z-index:1;letter-spacing:0.096px;transform:scale(1.0000,1.1000);transform-origin:0 21.00px;">84%</span>
<span id="t19" style="left:683.00px;top:186.51px;font-size:25px;font-weight:400;font-style:normal;color:#000;z-index:1;letter-spacing:0.096px;transform:scale(1.0000,1.1000);transform-origin:0 21.00px;">90%</span>
<span id="t20" style="left:683.00px;top:222.35px;font-size:25px;font-weight:400;font-style:normal;color:#000;z-index:1;letter-spacing:0.096px;transform:scale(1.0000,1.1000);transform-origin:0 21.00px;">90%</span>
<span id="t21" style="left:683.00px;top:258.21px;font-size:25px;font-weight:400;font-style:normal;color:#000;z-index:1;letter-spacing:0.096px;transform:scale(1.0000,1.1000);transform-origin:0 21.00px;">91%</span>
<span id="t22" style="left:683.00px;top:294.06px;font-size:25px;font-weight:400;font-style:normal;color:#000;z-index:1;letter-spacing:0.096px;transform:scale(1.0000,1.1000);transform-origin:0 21.00px;">91%</span>
<span id="t23" style="left:683.00px;top:329.90px;font-size:25px;font-weight:400;font-style:normal;color:#000;z-index:1;letter-spacing:0.096px;transform:scale(1.0000,1.1000);transform-origin:0 21.00px;">92%</span>
<span id="t24" style="left:683.00px;top:365.76px;font-size:25px;font-weight:400;font-style:normal;color:#000;z-index:1;letter-spacing:0.096px;transform:scale(1.0000,1.1000);transform-origin:0 21.00px;">93%</span>
<span id="t25" style="left:683.00px;top:401.60px;font-size:25px;font-weight:400;font-style:normal;color:#000;z-index:1;letter-spacing:0.096px;transform:scale(1.0000,1.1000);transform-origin:0 21.00px;">94%</span>
<span id="t26" style="left:683.00px;top:437.46px;font-size:25px;font-weight:400;font-style:normal;color:#000;z-index:1;letter-spacing:0.096px;transform:scale(1.0000,1.1000);transform-origin:0 21.00px;">95%</span>
<span id="t27" style="left:683.00px;top:470.51px;font-size:25px;font-weight:400;font-style:normal;color:#000;z-index:1;letter-spacing:0.096px;transform:scale(1.0000,1.1000);transform-origin:0 21.00px;">96%</span>
<span id="t28" style="left:1070.70px;top:115.31px;font-size:25.5px;font-weight:400;font-style:normal;color:#000;z-index:1;letter-spacing:1.033px;transform:scale(1.0000,1.1500);transform-origin:0 21.00px;">Expanded Data Set</span>
<span id="t29" style="left:1022.40px;top:151.17px;font-size:25.5px;font-weight:400;font-style:normal;color:#000;z-index:1;letter-spacing:0.864px;transform:scale(1.0000,1.1500);transform-origin:0 21.00px;">No Complete Project Phase</span>
<span id="t30" style="left:1052.00px;top:187.01px;font-size:25.5px;font-weight:400;font-style:normal;color:#000;z-index:1;letter-spacing:0.450px;transform:scale(1.0000,1.1500);transform-origin:0 21.00px;">No ITIL Implementation</span>
<span id="t31" style="left:1008.40px;top:222.86px;font-size:25.5px;font-weight:400;font-style:normal;color:#000;z-index:1;letter-spacing:0.886px;transform:scale(1.0000,1.1500);transform-origin:0 21.00px;">Two Roles Partially Supported</span>
<span id="t32" style="left:994.60px;top:258.70px;font-size:25.5px;font-weight:400;font-style:normal;color:#000;z-index:1;letter-spacing:1.069px;transform:scale(1.0000,1.1500);transform-origin:0 21.00px;">Few Bus Processes Collect Info</span>
<span id="t33" style="left:935.50px;top:294.56px;font-size:25.5px;font-weight:400;font-style:normal;color:#000;z-index:1;letter-spacing:0.570px;transform:scale(1.0000,1.1500);transform-origin:0 21.00px;">Most Response Info manually re-collected</span>
<span id="t34" style="left:1015.50px;top:330.42px;font-size:25.5px;font-weight:400;font-style:normal;color:#000;z-index:1;letter-spacing:0.750px;transform:scale(1.0000,1.1500);transform-origin:0 21.00px;">Network Access w/ Basic IA</span>
<span id="t35" style="left:967.70px;top:366.26px;font-size:25.5px;font-weight:400;font-style:normal;color:#000;z-index:1;letter-spacing:0.881px;transform:scale(1.0000,1.1500);transform-origin:0 21.00px;">NCS 2D Non-Intelligent As Designed</span>
<span id="t36" style="left:1060.00px;top:402.11px;font-size:25.5px;font-weight:400;font-style:normal;color:#000;z-index:1;letter-spacing:1.010px;transform:scale(1.0000,1.1500);transform-origin:0 21.00px;">Not Spatially Located</span>
<span id="t37" style="left:1073.80px;top:437.95px;font-size:25.5px;font-weight:400;font-style:normal;color:#000;z-index:1;letter-spacing:0.740px;transform:scale(1.0000,1.1500);transform-origin:0 21.00px;">Initial Ground Truth</span>
<span id="t38" style="left:1055.40px;top:472.61px;font-size:25.5px;font-weight:400;font-style:normal;color:#000;z-index:1;letter-spacing:0.688px;transform:scale(1.0000,1.1500);transform-origin:0 21.00px;">Forced Interoperability</span>
<span id="t39" style="left:1637.67px;top:115.31px;font-size:25.5px;font-weight:400;font-style:italic;color:#000;z-index:1;letter-spacing:-0.600px;transform:scale(1.0000,1.1000);transform-origin:0 21.00px;">1.7</span>
<span id="t40" style="left:1637.17px;top:151.17px;font-size:25.5px;font-weight:400;font-style:italic;color:#000;z-index:1;letter-spacing:-0.600px;transform:scale(1.0000,1.1000);transform-origin:0 21.00px;">0.8</span>
<span id="t41" style="left:1637.67px;top:187.01px;font-size:25.5px;font-weight:400;font-style:italic;color:#000;z-index:1;letter-spacing:-0.600px;transform:scale(1.0000,1.1000);transform-origin:0 21.00px;">0.9</span>
<span id="t42" style="left:1638.17px;top:222.86px;font-size:25.5px;font-weight:400;font-style:italic;color:#000;z-index:1;letter-spacing:-0.600px;transform:scale(1.0000,1.1000);transform-origin:0 21.00px;">2.7</span>
<span id="t43" style="left:1637.67px;top:258.70px;font-size:25.5px;font-weight:400;font-style:italic;color:#000;z-index:1;letter-spacing:-0.600px;transform:scale(1.0000,1.1000);transform-origin:0 21.00px;">1.8</span>
<span id="t44" style="left:1637.67px;top:294.56px;font-size:25.5px;font-weight:400;font-style:italic;color:#000;z-index:1;letter-spacing:-0.600px;transform:scale(1.0000,1.1000);transform-origin:0 21.00px;">1.8</span>
<span id="t45" style="left:1638.17px;top:330.42px;font-size:25.5px;font-weight:400;font-style:italic;color:#000;z-index:1;letter-spacing:-0.600px;transform:scale(1.0000,1.1000);transform-origin:0 21.00px;">2.8</span>
<span id="t46" style="left:1638.17px;top:366.26px;font-size:25.5px;font-weight:400;font-style:italic;color:#000;z-index:1;letter-spacing:-0.600px;transform:scale(1.0000,1.1000);transform-origin:0 21.00px;">2.8</span>
<span id="t47" style="left:1637.67px;top:402.11px;font-size:25.5px;font-weight:400;font-style:italic;color:#000;z-index:1;letter-spacing:-0.600px;transform:scale(1.0000,1.1000);transform-origin:0 21.00px;">0.9</span>
<span id="t48" style="left:1638.17px;top:437.95px;font-size:25.5px;font-weight:400;font-style:italic;color:#000;z-index:1;letter-spacing:-0.600px;transform:scale(1.0000,1.1000);transform-origin:0 21.00px;">1.9</span>
<span id="t49" style="left:1638.17px;top:470.42px;font-size:25.5px;font-weight:400;font-style:italic;color:#000;z-index:1;letter-spacing:-0.600px;transform:scale(1.0000,1.1000);transform-origin:0 21.00px;">1.9</span>
<span id="t50" style="left:1293.58px;top:511.20px;font-size:39px;font-weight:700;font-style:normal;color:#000;z-index:1;letter-spacing:0.300px;transform:scale(1.0248,1.0200);transform-origin:0 33.00px;">Credit Sum</span>
<span id="t51" style="left:1233.63px;top:562.31px;font-size:39px;font-weight:700;font-style:normal;color:#000;z-index:1;letter-spacing:0.300px;transform:scale(1.0373,1.0200);transform-origin:0 33.00px;">Maturity Level</span>
<span id="t52" style="left:1617.17px;top:515.21px;font-size:36.5px;font-weight:700;font-style:normal;color:#000;z-index:1;letter-spacing:0.400px;transform:scale(1.0290,1.1300);transform-origin:0 30.00px;">20.1</span>
<span id="t53" style="left:1572.40px;top:573.42px;font-size:26px;font-weight:400;font-style:normal;color:#000;z-index:1;letter-spacing:0.936px;transform:scale(1.0000,1.1300);transform-origin:0 22.00px;">Minimum BIM</span>
<span id="t54" style="left:564.30px;top:521.52px;font-size:12.2px;font-weight:700;font-style:normal;color:#df8a2c;z-index:1;letter-spacing:0.700px;transform:scale(1.1260,1.0000);transform-origin:0 10.00px;">National Institute of Building Sciences</span>
<span id="t55" style="left:577.00px;top:544.32px;font-size:18.2px;font-weight:400;font-style:normal;color:#e59333;z-index:1;letter-spacing:1.247px;">Facilities Information Council</span>
<span id="t56" style="left:550.80px;top:569.02px;font-size:27px;font-weight:400;font-style:normal;color:#e59333;z-index:1;letter-spacing:1.158px;">National BIM Standard</span>
<span id="t57" style="left:1200.85px;top:168.21px;font-size:22.5px;font-weight:700;font-style:normal;color:#000;z-index:6;letter-spacing:0.350px;transform:scale(1.0548,1.0000);transform-origin:0 18.00px;">Data Richness</span>
<span id="t58" style="left:1203.80px;top:198.21px;font-size:22.5px;font-weight:400;font-style:normal;color:#000;z-index:6;letter-spacing:0.203px;transform:scale(1.0000,1.0900);transform-origin:0 18.00px;">Identifies the completeness of</span>
<span id="t59" style="left:1205.80px;top:225.46px;font-size:22.5px;font-weight:400;font-style:normal;color:#000;z-index:6;letter-spacing:0.030px;transform:scale(1.0000,1.0900);transform-origin:0 18.00px;">the Building Information Model</span>
<span id="t60" style="left:1205.80px;top:252.71px;font-size:22.5px;font-weight:400;font-style:normal;color:#000;z-index:6;letter-spacing:0.161px;transform:scale(1.0000,1.0900);transform-origin:0 18.00px;">from initially very few pieces of</span>
<span id="t61" style="left:1204.80px;top:279.96px;font-size:22.5px;font-weight:400;font-style:normal;color:#000;z-index:6;letter-spacing:0.453px;transform:scale(1.0000,1.0900);transform-origin:0 18.00px;">unrelated data to the point of it</span>
<span id="t62" style="left:1204.80px;top:307.21px;font-size:22.5px;font-weight:400;font-style:normal;color:#000;z-index:6;letter-spacing:0.005px;transform:scale(1.0000,1.0900);transform-origin:0 18.00px;">becoming valuable information</span>
<span id="t63" style="left:1205.80px;top:334.46px;font-size:22.5px;font-weight:400;font-style:normal;color:#000;z-index:6;letter-spacing:0.230px;transform:scale(1.0000,1.0900);transform-origin:0 18.00px;">and ultimately corporate</span>
<span id="t64" style="left:1204.80px;top:361.71px;font-size:22.5px;font-weight:400;font-style:normal;color:#000;z-index:6;letter-spacing:0.293px;transform:scale(1.0000,1.0900);transform-origin:0 18.00px;">knowledge about a facility.</span>
</body></html>
